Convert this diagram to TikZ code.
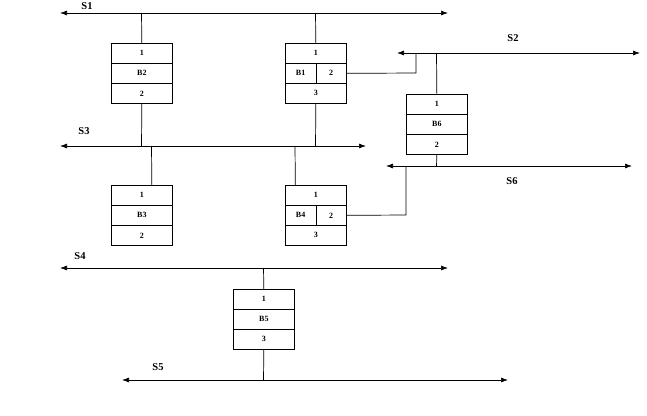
\documentclass[tikz,border=0pt]{standalone}
\usepackage{fontspec}
\setmainfont{Liberation Serif}
\usetikzlibrary{arrows.meta}
\begin{document}
\begin{tikzpicture}[x=1pt,y=-1pt,line width=0.7pt,
  cell/.style={draw,minimum width=61pt,minimum height=20pt,inner sep=0pt,font=\bfseries\fontsize{8}{9}\selectfont,anchor=north west},
  half/.style={draw,minimum width=30.5pt,minimum height=20pt,inner sep=0pt,font=\bfseries\fontsize{8}{9}\selectfont,anchor=north west},
  bus/.style={{Latex[length=7pt,width=5pt]}-{Latex[length=7pt,width=5pt]}},
  lab/.style={font=\bfseries\fontsize{10.5}{12}\selectfont}]
\useasboundingbox (0,0) rectangle (647,415);
% buses
\draw[bus] (60,13) -- (448,13);
\node[lab] (ls1) at (87,6) {S1};
\draw[bus] (397,53) -- (640,53);
\node[lab] (ls2) at (513,38) {S2};
\draw[bus] (386,166) -- (632,166);
\node[lab] (ls6) at (512,181) {S6};
\draw[bus] (60,146) -- (366,146);
\node[lab] (ls3) at (84,131) {S3};
\draw[bus] (60,268) -- (448,268);
\node[lab] (ls4) at (80,256) {S4};
\draw[bus] (122,380) -- (508,380);
\node[lab] (ls5) at (158,367) {S5};
% B2
\node[cell] (b2a) at (111,43) {1};
\node[cell] (b2b) at (111,63) {B2};
\node[cell] (b2c) at (111,83) {2};
\draw (b2a.north) -- (141.5,13);
\draw (b2c.south) -- (141.5,146);
% B1
\node[cell] (b1a) at (285,43) {1};
\node[half] (b1b) at (285,63) {B1};
\node[half] (b1p) at (315.5,63) {2};
\node[cell] (b1c) at (285,83) {3};
\draw (b1a.north) -- (315.5,13);
\draw (b1c.south) -- (315.5,146);
\draw (b1p.east) -- (416,73) -- (416,53);
% B6
\node[cell] (b6a) at (406,94) {1};
\node[cell] (b6b) at (406,114) {B6};
\node[cell] (b6c) at (406,134) {2};
\draw (b6a.north) -- (436.5,53);
\draw (b6c.south) -- (436.5,166);
% B3
\node[cell] (b3a) at (111,185) {1};
\node[cell] (b3b) at (111,205) {B3};
\node[cell] (b3c) at (111,225) {2};
\draw ([xshift=10pt]b3a.north) -- (151.5,146);
% B4
\node[cell] (b4a) at (285,185) {1};
\node[half] (b4b) at (285,205) {B4};
\node[half] (b4p) at (315.5,205) {2};
\node[cell] (b4c) at (285,225) {3};
\draw ([xshift=-20.5pt]b4a.north) -- (295,146);
\draw (b4p.east) -- (406,215) -- (406,166);
% B5
\node[cell] (b5a) at (233,289) {1};
\node[cell] (b5b) at (233,309) {B5};
\node[cell] (b5c) at (233,329) {3};
\draw (b5a.north) -- (263.5,268);
\draw (b5c.south) -- (263.5,380);
\end{tikzpicture}
\end{document}
